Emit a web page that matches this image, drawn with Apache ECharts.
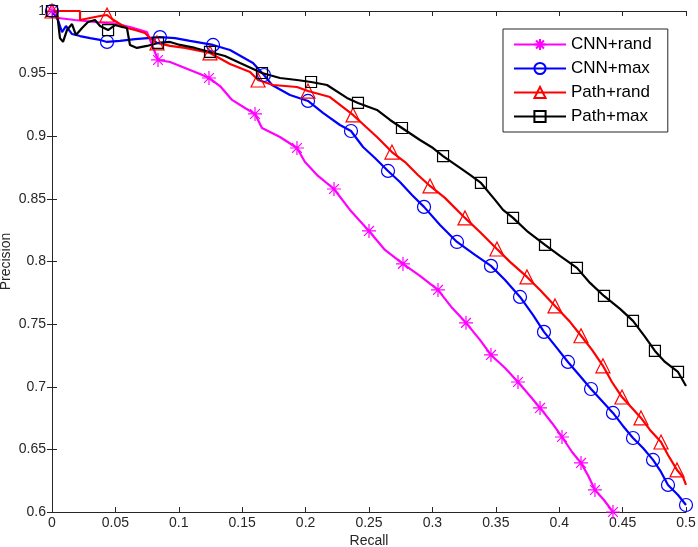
<!DOCTYPE html>
<html><head><meta charset="utf-8">
<script src="https://cdn.jsdelivr.net/npm/echarts@6/dist/echarts.min.js"></script>
<style>html,body{margin:0;padding:0;background:#fff}#c{width:698px;height:547px}</style>
</head><body><div id="c"></div>
<script>
const seriesNames = ['CNN+rand', 'CNN+max', 'Path+rand', 'Path+max'];

const cnnRandRecall = [0,0.0047,0.0181,0.0339,0.0513,0.0615,0.0749,0.0789,0.0836,0.0931,0.1049,0.1167,0.1238,0.1325,0.142,0.1522,0.1601,0.1656,0.1798,0.1932,0.1995,0.2098,0.2224,0.235,0.25,0.2626,0.2768,0.2902,0.3044,0.3155,0.3265,0.3375,0.3462,0.3573,0.3675,0.377,0.3849,0.3943,0.4022,0.4101,0.4172,0.4229,0.4282,0.4353,0.4424];
const cnnRandPrecision = [1,0.9944,0.9928,0.9912,0.9896,0.9872,0.9832,0.9729,0.9609,0.9593,0.9545,0.9497,0.9465,0.9401,0.929,0.9226,0.9178,0.9066,0.8994,0.8906,0.8794,0.8683,0.8579,0.8412,0.8244,0.8092,0.7981,0.7885,0.7773,0.763,0.751,0.7374,0.7254,0.715,0.7038,0.6926,0.6831,0.6711,0.6599,0.6479,0.6392,0.6289,0.6176,0.6096,0.6];
const cnnRandMarkers = [0,8,12,16,19,22,24,26,28,30,32,34,36,38,40,42,44];

const cnnMaxRecall = [0,0.0047,0.0079,0.011,0.0158,0.0221,0.030,0.0379,0.0434,0.0536,0.0655,0.0852,0.097,0.1088,0.127,0.1404,0.1585,0.1672,0.1735,0.1877,0.2019,0.2137,0.2271,0.2358,0.2453,0.2547,0.265,0.2744,0.2839,0.2934,0.306,0.3194,0.3336,0.3462,0.3573,0.3691,0.3793,0.388,0.3975,0.4069,0.4164,0.4251,0.4345,0.4424,0.4503,0.4582,0.4661,0.474,0.4803,0.4858,0.4937,0.5];
const cnnMaxPrecision = [1,0.9928,0.9832,0.988,0.9816,0.98,0.9784,0.9769,0.9753,0.9761,0.9776,0.9792,0.9784,0.9761,0.9729,0.9689,0.9585,0.9489,0.9409,0.9329,0.9282,0.9186,0.909,0.9042,0.8914,0.8826,0.8723,0.8635,0.8531,0.8436,0.8292,0.8156,0.8053,0.7965,0.7853,0.7717,0.7574,0.7438,0.7318,0.7198,0.7086,0.6982,0.6878,0.6791,0.6687,0.6591,0.6511,0.6416,0.632,0.6216,0.6136,0.6056];
const cnnMaxMarkers = [0,8,11,14,17,20,23,26,29,31,33,35,37,39,41,43,45,47,49,51];

const pathRandRecall = [0,0.0221,0.0221,0.030,0.0379,0.0434,0.0473,0.0536,0.0591,0.0655,0.0733,0.0773,0.0828,0.0931,0.1049,0.1246,0.1404,0.1562,0.1625,0.1743,0.1932,0.2019,0.2192,0.2374,0.2563,0.2681,0.2784,0.2886,0.2981,0.3099,0.3257,0.3375,0.3509,0.3612,0.3746,0.3849,0.3967,0.4085,0.4172,0.4259,0.4345,0.4416,0.4495,0.4574,0.4645,0.4716,0.4803,0.4858,0.4929,0.4976,0.5];
const pathRandPrecision = [1,1,0.9928,0.9944,0.996,0.9968,0.9936,0.9896,0.9864,0.9848,0.9824,0.9784,0.9745,0.9721,0.9705,0.9665,0.9577,0.9513,0.9449,0.9409,0.9393,0.9361,0.9313,0.917,0.8994,0.8874,0.8794,0.8691,0.8603,0.8508,0.8348,0.8236,0.81,0.7997,0.7877,0.7773,0.7645,0.7518,0.7407,0.7294,0.7167,0.7038,0.6918,0.6831,0.6751,0.6655,0.6559,0.6455,0.6336,0.628,0.6216];
const pathRandMarkers = [0,5,12,15,18,21,23,25,28,30,32,34,36,38,40,42,44,46,48];

const pathMaxRecall = [0,0.0039,0.0063,0.0087,0.0118,0.0158,0.0189,0.0237,0.0284,0.0339,0.0379,0.0442,0.0497,0.0552,0.0591,0.0615,0.067,0.0749,0.0836,0.0931,0.101,0.1128,0.1246,0.1364,0.1483,0.1656,0.1798,0.1932,0.2043,0.2169,0.2326,0.2413,0.2563,0.2666,0.276,0.2902,0.3005,0.3084,0.3218,0.3297,0.3383,0.3494,0.3557,0.3636,0.3754,0.3888,0.4006,0.414,0.4243,0.4353,0.448,0.4582,0.4677,0.4755,0.4834,0.4937,0.5];
const pathMaxPrecision = [1,0.9992,0.9784,0.9753,0.9848,0.9896,0.9808,0.9864,0.9912,0.9928,0.988,0.9848,0.9888,0.9872,0.9864,0.9729,0.9705,0.9721,0.9745,0.9753,0.9729,0.9705,0.9673,0.9641,0.9585,0.9505,0.9465,0.9449,0.9433,0.9409,0.9306,0.9266,0.921,0.913,0.9066,0.897,0.8906,0.8842,0.8747,0.8691,0.8627,0.8492,0.8412,0.8348,0.8236,0.8132,0.8045,0.7949,0.7829,0.7725,0.7622,0.7526,0.7398,0.7286,0.7198,0.7118,0.7006];
const pathMaxMarkers = [0,11,18,22,25,28,31,34,37,40,43,45,47,49,51,53,55];

const recallTicks = {min: 0, max: 0.5, interval: 0.05};
const precisionTicks = {min: 0.6, max: 1, interval: 0.05};

const ASTERISK = 'path://M10,0L10,20M0,10L20,10M3,3L17,17M3,17L17,3';

function build(rec, prec, marks) {
  const set = new Set(marks);
  return rec.map((x, i) => set.has(i) ? {value: [x, prec[i]]} : {value: [x, prec[i]], symbol: 'none'});
}

const defs = [
  {name: seriesNames[0], rec: cnnRandRecall, prec: cnnRandPrecision, marks: cnnRandMarkers, color: '#ff00ff', symbol: ASTERISK, size: 14},
  {name: seriesNames[1], rec: cnnMaxRecall, prec: cnnMaxPrecision, marks: cnnMaxMarkers, color: '#0000ff', symbol: 'circle', size: 13},
  {name: seriesNames[2], rec: pathRandRecall, prec: pathRandPrecision, marks: pathRandMarkers, color: '#ff0000', symbol: 'triangle', size: 14},
  {name: seriesNames[3], rec: pathMaxRecall, prec: pathMaxPrecision, marks: pathMaxMarkers, color: '#000000', symbol: 'rect', size: 11}
];

const axisCol = '#262626';
const font = 'Liberation Sans, Arial, Helvetica, sans-serif';

const chart = echarts.init(document.getElementById('c'), null, {renderer: 'canvas'});
chart.setOption({
  animation: false,
  backgroundColor: '#fff',
  grid: {left: 52, right: 12, top: 11, bottom: 35, containLabel: false, outerBoundsMode: 'none'},
  legend: {
    orient: 'vertical', left: 503, top: 29,
    padding: [7, 16, 7, 10], itemGap: 7, itemWidth: 52, itemHeight: 14,
    borderColor: axisCol, borderWidth: 1, backgroundColor: '#fff',
    textStyle: {fontFamily: font, fontSize: 17, color: '#000'},
    data: seriesNames
  },
  xAxis: [
    {type: 'value', min: recallTicks.min, max: recallTicks.max, interval: recallTicks.interval,
     name: 'Recall', nameLocation: 'middle', nameGap: 22, nameMoveOverlap: false,
     nameTextStyle: {fontFamily: font, fontSize: 14, color: axisCol},
     axisLine: {show: true, lineStyle: {color: axisCol, width: 1}},
     axisTick: {show: true, inside: true, length: 5, lineStyle: {color: axisCol}},
     axisLabel: {fontFamily: font, fontSize: 14, color: axisCol, margin: 4},
     splitLine: {show: false}},
    {type: 'value', position: 'top', min: recallTicks.min, max: recallTicks.max, interval: recallTicks.interval,
     axisLine: {show: true, lineStyle: {color: axisCol, width: 1}},
     axisTick: {show: true, inside: true, length: 5, lineStyle: {color: axisCol}},
     axisLabel: {show: false}, splitLine: {show: false}}
  ],
  yAxis: [
    {type: 'value', min: precisionTicks.min, max: precisionTicks.max, interval: precisionTicks.interval,
     name: 'Precision', nameLocation: 'middle', nameGap: 39, nameRotate: 90, nameMoveOverlap: false,
     nameTextStyle: {fontFamily: font, fontSize: 14, color: axisCol},
     axisLine: {show: true, lineStyle: {color: axisCol, width: 1}},
     axisTick: {show: true, inside: true, length: 5, lineStyle: {color: axisCol}},
     axisLabel: {fontFamily: font, fontSize: 14, color: axisCol, margin: 6},
     splitLine: {show: false}},
    {type: 'value', position: 'right', min: precisionTicks.min, max: precisionTicks.max, interval: precisionTicks.interval,
     axisLine: {show: true, lineStyle: {color: axisCol, width: 1}},
     axisTick: {show: true, inside: true, length: 5, lineStyle: {color: axisCol}},
     axisLabel: {show: false}, splitLine: {show: false}}
  ],
  series: defs.map(d => ({
    name: d.name, type: 'line', xAxisIndex: 0, yAxisIndex: 0,
    data: build(d.rec, d.prec, d.marks),
    color: d.color, smooth: false,
    symbol: d.symbol, symbolSize: d.size, showSymbol: true, showAllSymbol: true, symbolKeepAspect: true,
    clip: false,
    lineStyle: {color: d.color, width: 2.2},
    itemStyle: {color: 'rgba(0,0,0,0)', borderColor: d.color, borderWidth: 1.2},
    emphasis: {disabled: true}
  }))
});
</script>
</body></html>
